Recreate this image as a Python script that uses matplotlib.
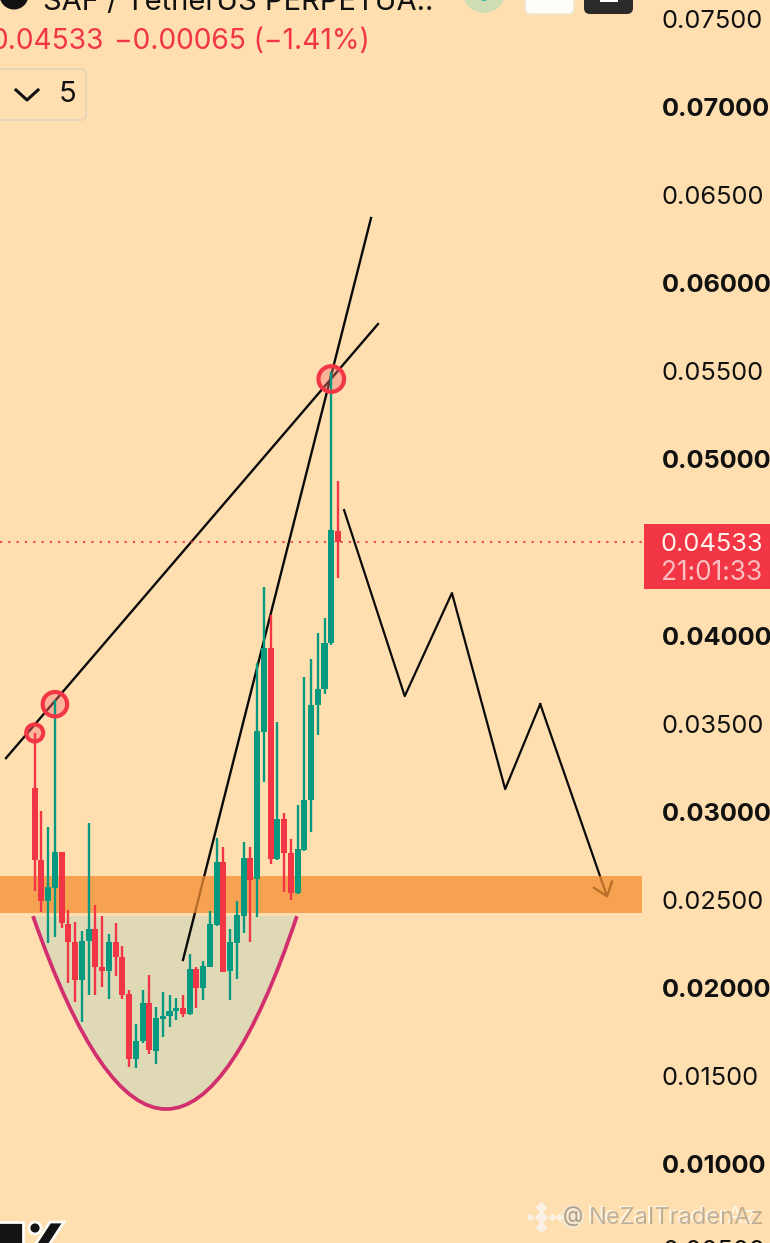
import matplotlib
matplotlib.use("Agg")
import matplotlib.pyplot as plt
from matplotlib.patches import PathPatch, Rectangle, FancyBboxPatch, Circle, Polygon
from matplotlib.path import Path
from matplotlib.lines import Line2D

plt.rcParams['font.family'] = ['Inter', 'DejaVu Sans']

# candles, one value per bar
opens = [.03134, .02725, .02493, .02566, .02771, .02362, .02260, .02044, .02265, .02334,
         .02118, .02095, .02260, .02175, .01965, .01596, .01698, .01914, .01641, .01823,
         .01840, .01868, .01885, .01851, .02107, .01999, .02118, .02356, .02714, .02095,
         .02254, .02407, .02737, .02617, .03452, .03929, .02731, .02958, .02765, .02538,
         .02782, .03066, .03605, .03696, .03957, .04593]
highs = [.03447, .03004, .02913, .03634, .02771, .02442, .02373, .02322, .02935, .02470,
         .02407, .02305, .02368, .02237, .01987, .01794, .01987, .02073, .01891, .01976,
         .01959, .01942, .01959, .02192, .02118, .02152, .02436, .02850, .02799, .02334,
         .02493, .02828, .02799, .03844, .04275, .04116, .03509, .02992, .02844, .03037,
         .03764, .03866, .04014, .04099, .05495, .04877]
lows = [.02550, .02430, .02254, .02288, .02339, .02027, .01919, .01806, .01959, .01959,
        .02004, .01936, .02067, .01936, .01550, .01545, .01686, .01624, .01567, .01721,
        .01777, .01817, .01834, .01845, .01885, .01931, .02118, .02351, .02089, .01931,
        .02050, .02311, .02260, .02402, .03168, .02703, .02725, .02544, .02498, .02533,
        .02777, .02884, .03435, .03668, .03946, .04326]
closes = [.02725, .02493, .02572, .02771, .02368, .02260, .02044, .02265, .02334, .02118,
          .02095, .02260, .02175, .01959, .01596, .01698, .01914, .01647, .01828, .01840,
          .01868, .01885, .01851, .02107, .01999, .02124, .02362, .02714, .02089, .02260,
          .02413, .02737, .02612, .03458, .03929, .02731, .02958, .02765, .02538, .02788,
          .03066, .03605, .03696, .03957, .04599, .04533]

last_price = 0.04533

# hand drawn lines on the chart (bar number, price)
trend1_x = [-4.26, 50.93]
trend1_y = [.03304, .05768]
trend2_x = [22.0, 49.9]
trend2_y = [.02158, .06370]
zigzag_x = [45.9, 54.9, 61.9, 69.8, 75.0, 85.0]
zigzag_y = [.04712, .03656, .04241, .03128, .03611, .02510]

circle_x = [0, 3, 44]
circle_y = [.03447, .03610, .05456]
circle_size = [150, 310, 340]

band_low = 0.02424
band_high = 0.02634
band_end = 90.1

cup_x = [-0.25, 19.7, 38.9]
cup_y = [.02407, .00216, .02407]

tick_values = [.075, .07, .065, .06, .055, .05, .04, .035, .03, .025, .02, .015, .01]
tick_bold = [False, True, False, True, False, True, True, False, True, False, True, False, True]

BG = '#FFDFB0'
RED = '#F23645'
GREEN = '#089981'
W, H = 770, 1243

fig = plt.figure(figsize=(7.7, 12.43), dpi=100, facecolor=BG)
ax = fig.add_axes([0, 0, 1, 1], facecolor=BG)
ax.set_xlim(-5.148, 109.09)
ax.set_ylim(0.005516, 0.076074)
for s in ax.spines.values():
    s.set_visible(False)
ax.xaxis.set_visible(False)


def px(x, y):
    # screen pixels (top left origin) to figure fraction, for the app chrome
    return x / W, 1 - y / H


# cup
verts = list(zip(cup_x, cup_y))
ax.add_patch(PathPatch(Path(verts + [verts[0]], [Path.MOVETO, Path.CURVE3, Path.CURVE3, Path.CLOSEPOLY]),
                       facecolor='#DFDAB5', edgecolor='none', zorder=1))
ax.add_patch(PathPatch(Path(verts, [Path.MOVETO, Path.CURVE3, Path.CURVE3]),
                       facecolor='none', edgecolor='#D12F6E', lw=2.7, capstyle='butt', zorder=1.5))

# drawings go below the orange band so they get tinted by it
ax.plot(trend1_x, trend1_y, color='#0a0a0a', lw=1.7, zorder=2)
ax.plot(trend2_x, trend2_y, color='#0a0a0a', lw=1.7, zorder=2)
ax.plot(zigzag_x[:-1], zigzag_y[:-1], color='#0a0a0a', lw=1.6, zorder=2)
ax.annotate('', xy=(zigzag_x[-1], zigzag_y[-1]), xytext=(zigzag_x[-2], zigzag_y[-2]),
            arrowprops=dict(arrowstyle='->,head_length=0.9,head_width=0.7', color='#0a0a0a', lw=1.6,
                            shrinkA=0, shrinkB=0), zorder=2)

ax.fill_between([-5.148, band_end], band_low, band_high, color='#F38E31', alpha=0.75, lw=0, zorder=3)

# candles
for i in range(len(opens)):
    c = GREEN if closes[i] > opens[i] else RED
    ax.vlines(i, lows[i], highs[i], color=c, lw=1.7, zorder=4)
    ax.bar(i, abs(closes[i] - opens[i]), bottom=min(opens[i], closes[i]), width=0.9, color=c, lw=0, zorder=4.5)

# pale fill goes under the candles, ring over them
ax.scatter(circle_x, circle_y, s=circle_size, facecolor=(0.98, 0.45, 0.45, 0.4), edgecolor='none', zorder=3.5)
ax.scatter(circle_x, circle_y, s=circle_size, facecolor='none', edgecolor=RED, linewidth=3, zorder=6)

# last price line and tag
ax.plot([-5.148, 90.4], [last_price, last_price], color=RED, lw=1.3, linestyle=(0, (1.2, 3.4)), zorder=2.5)
ax.add_patch(Rectangle((90.4, 0.04264), 20, 0.00369, facecolor=RED, edgecolor='none', zorder=5))
ax.text(*px(661, 544.5), '0.04533', transform=fig.transFigure, color='#FFF3EC', fontsize=18.3, va='center', zorder=7)
ax.text(*px(661, 573), '21:01:33', transform=fig.transFigure, color='#FBBFC0', fontsize=18.9, va='center', zorder=7)

# price axis
ax.set_yticks(tick_values)
ax.set_yticklabels(['%.5f' % t for t in tick_values])
ax.tick_params(axis='y', length=0, pad=-476.2, labelsize=18.3, labelcolor='#111111')
for lab, b in zip(ax.get_yticklabels(), tick_bold):
    lab.set_ha('left')
    lab.set_fontweight('bold' if b else 'normal')
ax.text(*px(662, 1252), '0.00500', transform=fig.transFigure, fontsize=18.3, color='#111111', va='center')

# header
fig.patches.append(Circle((14, H + 5), 14.5, transform=None, facecolor='#111111', edgecolor='none'))
fig.text(*px(43, 10), 'SAF / TetherUS PERPETUA..', fontsize=21, color='#111111', va='baseline')
fig.text(*px(-10, 41.5), '0.04533', fontsize=20.3, color=RED, va='center')
fig.text(*px(114, 41.5), '\u22120.00065 (\u22121.41%)', fontsize=20.3, color=RED, va='center')

fig.patches.append(FancyBboxPatch((-20, H - 120), 106, 51, boxstyle='round,pad=0,rounding_size=5', transform=None,
                                  facecolor=BG, edgecolor='#E6D6B8', lw=1.4))
fig.lines.append(Line2D([16, 27, 38], [H - 90, H - 100, H - 90], transform=None, color='#111111', lw=2.2))
fig.text(*px(59, 95), '5', fontsize=21, color='#111111', va='center')

fig.patches.append(Circle((484, H + 9), 22, transform=None, facecolor='#CFDDB4', edgecolor='none'))
fig.patches.append(Circle((484, H + 4), 5, transform=None, facecolor='#2FB89E', edgecolor='none'))
fig.patches.append(FancyBboxPatch((525, H - 14), 49, 30, boxstyle='round,pad=0,rounding_size=6', transform=None,
                                  facecolor='#FFFDF8', edgecolor='#EDE5D5', lw=1))
fig.patches.append(FancyBboxPatch((584, H - 14), 49, 30, boxstyle='round,pad=0,rounding_size=6', transform=None,
                                  facecolor='#2B2A28', edgecolor='none'))
fig.patches.append(Rectangle((600, H - 2), 18, 4, transform=None, facecolor='white', edgecolor='none'))

# cropped logo bottom left
white = dict(transform=None, facecolor='#141414', edgecolor='#FFFDF8', lw=2)
fig.patches.append(Polygon([(-5, 21), (23, 21), (23, -5), (-5, -5)], **white))
fig.patches.append(Polygon([(50, 21), (64, 21), (47, -5), (33, -5)], **white))
fig.patches.append(Circle((35, 15), 6, **white))

# watermark
for mx, my, ms in [(541, 1217, 6), (530, 1217, 3), (552, 1217, 3), (541, 1207, 5), (541, 1227, 5),
                   (559, 1217, 3)]:
    fig.lines.append(Line2D([mx], [H - my], transform=None, marker='D', ms=ms, color='#FAF4EA', alpha=0.9))
fig.patches.append(Circle((572, H - 1217), 12, transform=None, facecolor='#F6E8CE', edgecolor='none', alpha=0.9))
fig.text(*px(563, 1216), '@', fontsize=15, color='#A89F90', va='center')
fig.text(*px(587, 1217), 'NeZaITraderAz', fontsize=17, color='#FFF8EC', va='center', alpha=0.9)
fig.text(*px(589, 1218), 'NeZaITradenAz', fontsize=17, color='#8E8779', va='center', alpha=0.55)

fig.savefig('out.png', dpi=100, facecolor=BG)
